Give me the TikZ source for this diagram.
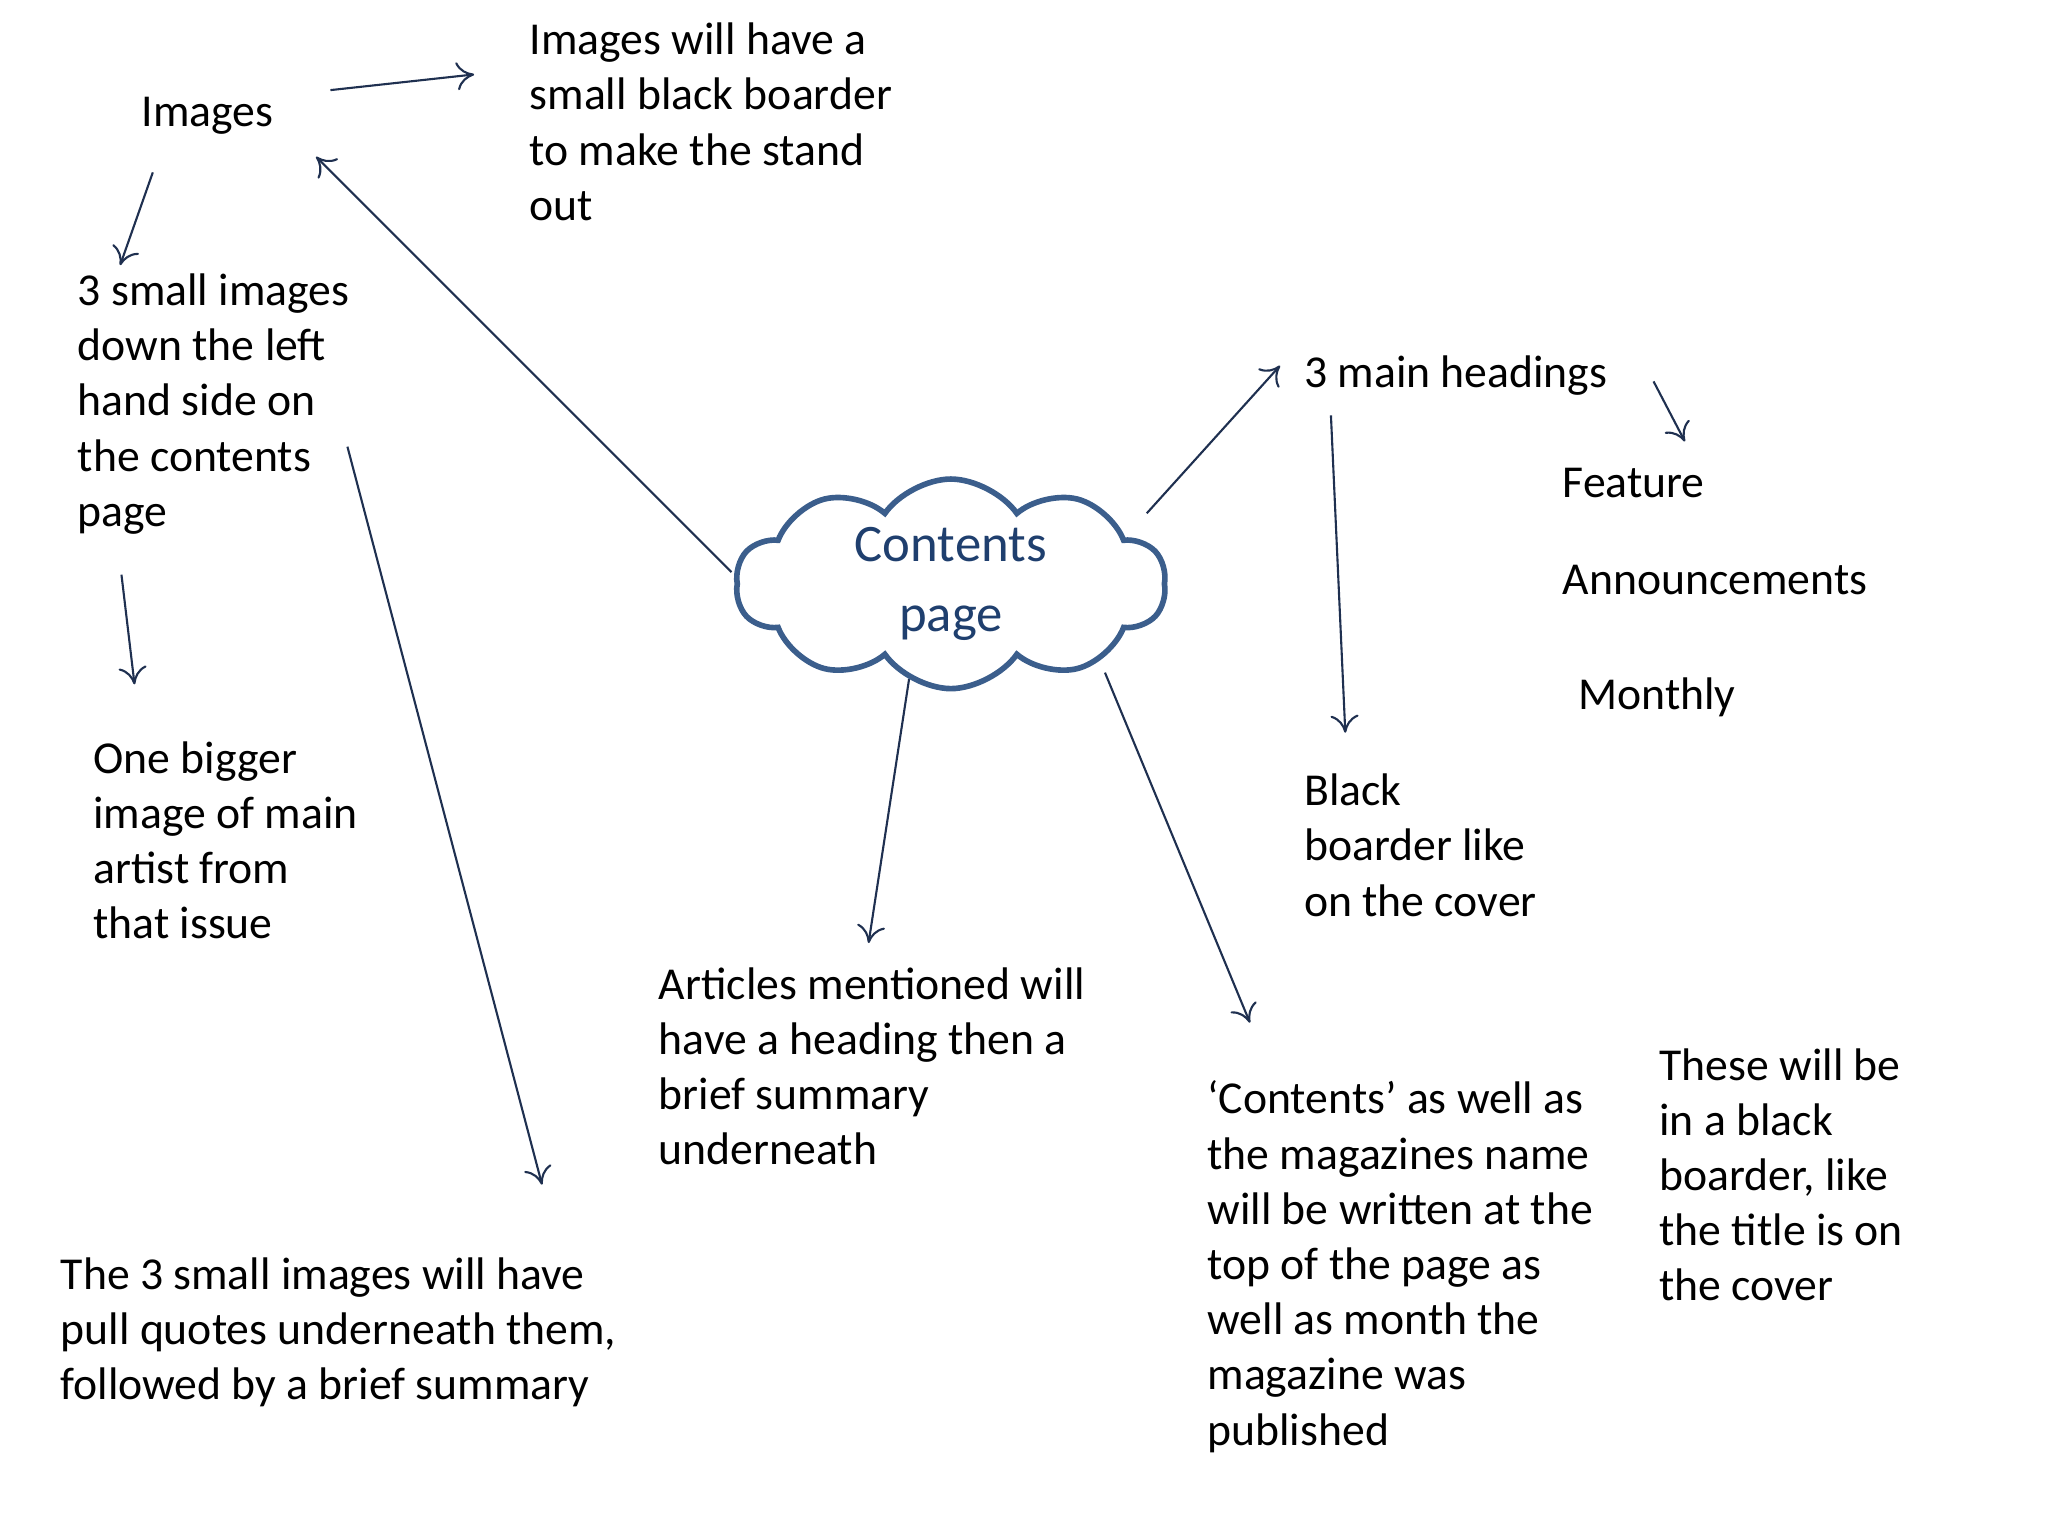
\documentclass[tikz,border=0pt]{standalone}
\usepackage{fontspec}
\setmainfont{Carlito}
\usetikzlibrary{shapes.symbols,arrows.meta}
\definecolor{cloudline}{HTML}{3B5E8C}
\definecolor{cloudtext}{HTML}{1F3F6E}
\definecolor{arrcol}{HTML}{1F3050}
\begin{document}
\begin{tikzpicture}[x=0.013061cm,y=-0.013061cm,
  txt/.style={anchor=north west,inner sep=0pt,align=left,font=\fontsize{13pt}{15.7pt}\selectfont,text=black},
  arr/.style={draw=arrcol,line width=0.6pt,-{To[length=5pt,width=8pt]}}]
\useasboundingbox (0,0) rectangle (1568,1176);
\node[cloud,cloud puffs=10,cloud puff arc=110,aspect=2.2,inner sep=0pt,draw=cloudline,line width=1.6pt,minimum width=4.3cm,minimum height=1.95cm,text=cloudtext,font=\fontsize{15pt}{20pt}\selectfont,align=center] (cloud) at (728,447) {Contents\\page};
\begin{scope}[yshift=-0.08cm]
\node[txt] (images) at (108,68) {Images};
\node[txt] (imgtxt) at (405,11) {Images will have a\\small black boarder\\to make the stand\\out};
\node[txt] (small3) at (59,203) {3 small images\\down the left\\hand side on\\the contents\\page};
\node[txt] (bigger) at (71,561) {One bigger\\image of main\\artist from\\that issue};
\node[txt] (pull) at (46,956) {The 3 small images will have\\pull quotes underneath them,\\followed by a brief summary};
\node[txt] (articles) at (504,734) {Articles mentioned will\\have a heading then a\\brief summary\\underneath};
\node[txt] (contentsq) at (924,821) {‘Contents’ as well as\\the magazines name\\will be written at the\\top of the page as\\well as month the\\magazine was\\published};
\node[txt] (these) at (1270,796) {These will be\\in a black\\boarder, like\\the title is on\\the cover};
\node[txt] (heads) at (998,266) {3 main headings};
\node[txt] (feature) at (1196,352) {Feature};
\node[txt] (annc) at (1196,426) {Announcements};
\node[txt] (monthly) at (1208,512) {Monthly};
\node[txt] (black) at (998,586) {Black\\boarder like\\on the cover};
\end{scope}
\coordinate (a1) at (253,69); \coordinate (b1) at (363,57);
\coordinate (a2) at (117,132); \coordinate (b2) at (92,203);
\coordinate (a3) at (560,438); \coordinate (b3) at (242,120);
\coordinate (a4) at (93,440); \coordinate (b4) at (103,524);
\coordinate (a5) at (266,342); \coordinate (b5) at (415,907);
\coordinate (a6) at (878,393); \coordinate (b6) at (980,280);
\coordinate (a7) at (1019,318); \coordinate (b7) at (1030,561);
\coordinate (a8) at (1266,292); \coordinate (b8) at (1290,338);
\coordinate (a9) at (696,520); \coordinate (b9) at (665,722);
\coordinate (a10) at (846,515); \coordinate (b10) at (957,783);
\foreach \i in {1,...,10} \draw[arr] (a\i) -- (b\i);
\end{tikzpicture}
\end{document}
